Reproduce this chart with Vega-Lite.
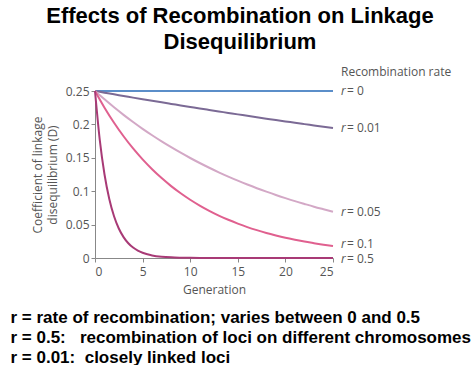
{
  "$schema": "https://vega.github.io/schema/vega-lite/v6.json",
  "autosize": {"type": "none"},
  "padding": {"left": 95, "top": 91, "right": 141, "bottom": 107},
  "width": 238,
  "height": 167,
  "background": "white",
  "config": {"view": {"stroke": null}, "font": "Open Sans"},
  "datasets": {
    "curves": [
      {"r": "0", "t": 0, "D": 0.25}, {"r": "0", "t": 25, "D": 0.25},
      {"r": "0.01", "t": 0, "D": 0.25}, {"r": "0.01", "t": 1, "D": 0.2475}, {"r": "0.01", "t": 2, "D": 0.2450}, {"r": "0.01", "t": 3, "D": 0.2426}, {"r": "0.01", "t": 4, "D": 0.2401}, {"r": "0.01", "t": 5, "D": 0.2377}, {"r": "0.01", "t": 6, "D": 0.2354}, {"r": "0.01", "t": 7, "D": 0.2330}, {"r": "0.01", "t": 8, "D": 0.2307}, {"r": "0.01", "t": 9, "D": 0.2284}, {"r": "0.01", "t": 10, "D": 0.2261}, {"r": "0.01", "t": 11, "D": 0.2238}, {"r": "0.01", "t": 12, "D": 0.2216}, {"r": "0.01", "t": 13, "D": 0.2194}, {"r": "0.01", "t": 14, "D": 0.2172}, {"r": "0.01", "t": 15, "D": 0.2150}, {"r": "0.01", "t": 16, "D": 0.2129}, {"r": "0.01", "t": 17, "D": 0.2107}, {"r": "0.01", "t": 18, "D": 0.2086}, {"r": "0.01", "t": 19, "D": 0.2065}, {"r": "0.01", "t": 20, "D": 0.2045}, {"r": "0.01", "t": 21, "D": 0.2024}, {"r": "0.01", "t": 22, "D": 0.2004}, {"r": "0.01", "t": 23, "D": 0.1984}, {"r": "0.01", "t": 24, "D": 0.1964}, {"r": "0.01", "t": 25, "D": 0.1945},
      {"r": "0.05", "t": 0, "D": 0.25}, {"r": "0.05", "t": 1, "D": 0.2375}, {"r": "0.05", "t": 2, "D": 0.2256}, {"r": "0.05", "t": 3, "D": 0.2143}, {"r": "0.05", "t": 4, "D": 0.2036}, {"r": "0.05", "t": 5, "D": 0.1934}, {"r": "0.05", "t": 6, "D": 0.1838}, {"r": "0.05", "t": 7, "D": 0.1746}, {"r": "0.05", "t": 8, "D": 0.1659}, {"r": "0.05", "t": 9, "D": 0.1576}, {"r": "0.05", "t": 10, "D": 0.1497}, {"r": "0.05", "t": 11, "D": 0.1422}, {"r": "0.05", "t": 12, "D": 0.1351}, {"r": "0.05", "t": 13, "D": 0.1283}, {"r": "0.05", "t": 14, "D": 0.1219}, {"r": "0.05", "t": 15, "D": 0.1158}, {"r": "0.05", "t": 16, "D": 0.1100}, {"r": "0.05", "t": 17, "D": 0.1045}, {"r": "0.05", "t": 18, "D": 0.0993}, {"r": "0.05", "t": 19, "D": 0.0943}, {"r": "0.05", "t": 20, "D": 0.0896}, {"r": "0.05", "t": 21, "D": 0.0851}, {"r": "0.05", "t": 22, "D": 0.0809}, {"r": "0.05", "t": 23, "D": 0.0768}, {"r": "0.05", "t": 24, "D": 0.0730}, {"r": "0.05", "t": 25, "D": 0.0693},
      {"r": "0.1", "t": 0, "D": 0.25}, {"r": "0.1", "t": 1, "D": 0.2250}, {"r": "0.1", "t": 2, "D": 0.2025}, {"r": "0.1", "t": 3, "D": 0.1823}, {"r": "0.1", "t": 4, "D": 0.1640}, {"r": "0.1", "t": 5, "D": 0.1476}, {"r": "0.1", "t": 6, "D": 0.1329}, {"r": "0.1", "t": 7, "D": 0.1196}, {"r": "0.1", "t": 8, "D": 0.1076}, {"r": "0.1", "t": 9, "D": 0.0969}, {"r": "0.1", "t": 10, "D": 0.0872}, {"r": "0.1", "t": 11, "D": 0.0785}, {"r": "0.1", "t": 12, "D": 0.0706}, {"r": "0.1", "t": 13, "D": 0.0635}, {"r": "0.1", "t": 14, "D": 0.0572}, {"r": "0.1", "t": 15, "D": 0.0515}, {"r": "0.1", "t": 16, "D": 0.0463}, {"r": "0.1", "t": 17, "D": 0.0417}, {"r": "0.1", "t": 18, "D": 0.0375}, {"r": "0.1", "t": 19, "D": 0.0338}, {"r": "0.1", "t": 20, "D": 0.0304}, {"r": "0.1", "t": 21, "D": 0.0274}, {"r": "0.1", "t": 22, "D": 0.0246}, {"r": "0.1", "t": 23, "D": 0.0222}, {"r": "0.1", "t": 24, "D": 0.0199}, {"r": "0.1", "t": 25, "D": 0.0179},
      {"r": "0.5", "t": 0, "D": 0.25}, {"r": "0.5", "t": 0.5, "D": 0.1768}, {"r": "0.5", "t": 1, "D": 0.125}, {"r": "0.5", "t": 1.5, "D": 0.0884}, {"r": "0.5", "t": 2, "D": 0.0625}, {"r": "0.5", "t": 2.5, "D": 0.0442}, {"r": "0.5", "t": 3, "D": 0.0313}, {"r": "0.5", "t": 3.5, "D": 0.0221}, {"r": "0.5", "t": 4, "D": 0.0156}, {"r": "0.5", "t": 4.5, "D": 0.0110}, {"r": "0.5", "t": 5, "D": 0.0078}, {"r": "0.5", "t": 5.5, "D": 0.0055}, {"r": "0.5", "t": 6, "D": 0.0039}, {"r": "0.5", "t": 7, "D": 0.0020}, {"r": "0.5", "t": 8, "D": 0.0010}, {"r": "0.5", "t": 9, "D": 0.0005}, {"r": "0.5", "t": 10, "D": 0.0002}, {"r": "0.5", "t": 12, "D": 0.0001}, {"r": "0.5", "t": 15, "D": 0}, {"r": "0.5", "t": 20, "D": 0}, {"r": "0.5", "t": 25, "D": 0}
    ],
    "labels": [
      {"r": "0", "label": "= 0", "t": 25, "D": 0.25},
      {"r": "0.01", "label": "= 0.01", "t": 25, "D": 0.1945},
      {"r": "0.05", "label": "= 0.05", "t": 25, "D": 0.0693},
      {"r": "0.1", "label": "= 0.1", "t": 25, "D": 0.0215},
      {"r": "0.5", "label": "= 0.5", "t": 25, "D": -0.0015}
    ],
    "header": [{"text": "Recombination rate", "t": 25, "D": 0.25}]
  },
  "title": {
    "text": ["Effects of Recombination on Linkage", "Disequilibrium"],
    "anchor": "middle",
    "frame": "group",
    "dx": 26,
    "font": "Liberation Sans",
    "fontSize": 22,
    "fontWeight": "bold",
    "color": "black",
    "lineHeight": 26,
    "offset": 12
  },
  "encoding": {
    "x": {"field": "t", "type": "quantitative", "scale": {"domain": [0, 25], "nice": false},
          "axis": {"title": "Generation", "values": [0, 5, 10, 15, 20, 25], "grid": false, "domainColor": "#888", "tickColor": "#888", "labelColor": "#555", "labelFontSize": 12, "titleFontSize": 12, "titleFontWeight": "normal", "titleColor": "#555", "tickSize": 4, "labelPadding": 4, "titlePadding": 7, "labelFont": "Open Sans", "titleFont": "Open Sans"}}
  },
  "resolve": {"scale": {"y": "independent"}, "axis": {"y": "independent"}},
  "layer": [
    {
      "data": {"name": "curves"},
      "mark": {"type": "line", "interpolate": "monotone", "strokeWidth": 2, "clip": false},
      "encoding": {
        "y": {"field": "D", "type": "quantitative", "scale": {"domain": [0, 0.25], "nice": false},
              "axis": {"orient": "left", "title": ["Coefficient of linkage", "disequilibrium (D)"], "values": [0, 0.05, 0.1, 0.15, 0.2, 0.25], "format": "~g", "grid": false, "domainColor": "#888", "tickColor": "#888", "labelColor": "#555", "labelFontSize": 12, "titleFontSize": 12, "titleFontWeight": "normal", "titleColor": "#555", "tickSize": 4, "labelPadding": 2, "titlePadding": 6, "titleLineHeight": 15, "labelFont": "Open Sans", "titleFont": "Open Sans"}},
        "color": {"field": "r", "type": "nominal", "legend": null,
                  "scale": {"domain": ["0", "0.01", "0.05", "0.1", "0.5"], "range": ["#5b8ec9", "#7b6a95", "#d3a8c6", "#e0608f", "#a83a76"]}}
      }
    },
    {
      "data": {"name": "labels"},
      "mark": {"type": "text", "align": "left", "baseline": "middle", "dx": 8, "fontStyle": "italic", "fontSize": 12, "color": "#555"},
      "encoding": {
        "y": {"field": "D", "type": "quantitative", "scale": {"domain": [0, 0.25], "nice": false},
              "axis": {"orient": "right", "domain": false, "ticks": false, "labels": false, "grid": false,
                       "title": ["r = rate of recombination; varies between 0 and 0.5", "r = 0.5:\u00a0\u00a0 recombination of loci on different chromosomes", "r = 0.01:\u00a0 closely linked loci"],
                       "titleAngle": 0, "titleAlign": "left", "titleBaseline": "alphabetic", "titleAnchor": null,
                       "titleX": -323, "titleY": 231, "titleFont": "Liberation Sans", "titleFontSize": 17, "titleFontWeight": "bold", "titleColor": "black", "titleLineHeight": 20}},
        "text": {"value": "r"}
      }
    },
    {
      "data": {"name": "labels"},
      "mark": {"type": "text", "align": "left", "baseline": "middle", "dx": 14, "fontSize": 12, "color": "#555"},
      "encoding": {
        "y": {"field": "D", "type": "quantitative", "scale": {"domain": [0, 0.25], "nice": false}, "axis": null},
        "text": {"field": "label"}
      }
    },
    {
      "data": {"name": "header"},
      "mark": {"type": "text", "align": "left", "baseline": "middle", "dx": 8, "dy": -19, "fontSize": 12, "color": "#555"},
      "encoding": {
        "y": {"field": "D", "type": "quantitative", "scale": {"domain": [0, 0.25], "nice": false}, "axis": null},
        "text": {"field": "text"}
      }
    }
  ]
}
